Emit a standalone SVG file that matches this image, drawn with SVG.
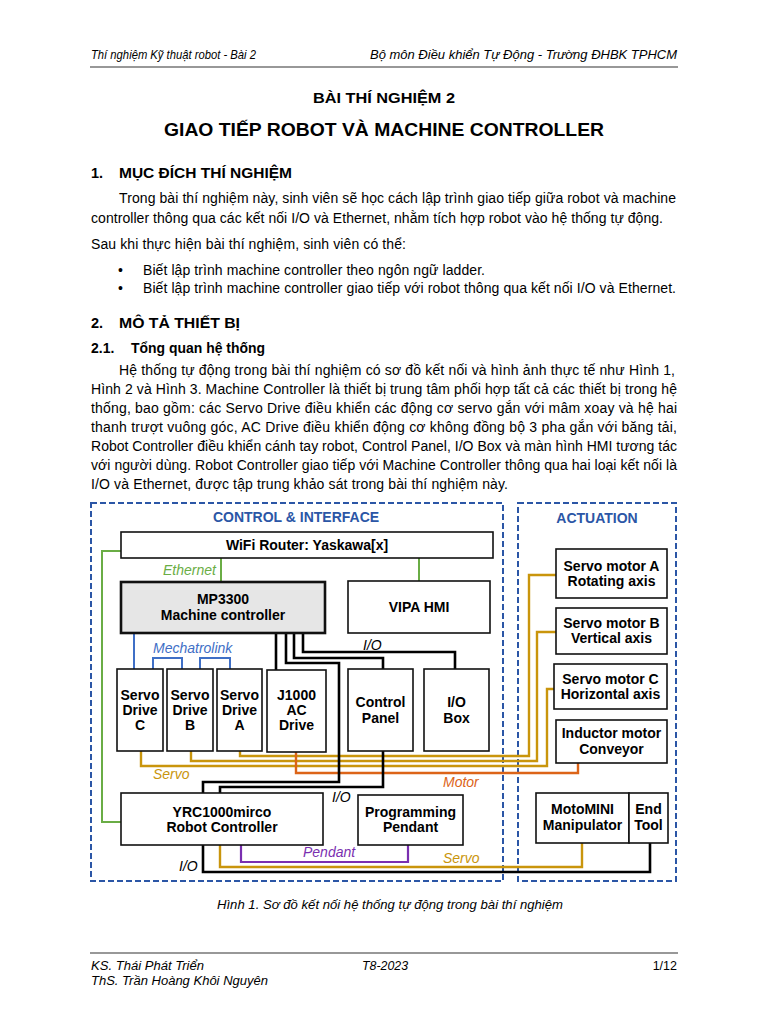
<svg xmlns="http://www.w3.org/2000/svg" width="768" height="1024" viewBox="0 0 768 1024">
<style>
.t{font-family:"Liberation Sans",Arial,sans-serif;fill:#000}
.it{font-style:italic}
.b{font-weight:bold}
.body{font-size:14px}
.nt{font-family:"Liberation Sans",Arial,sans-serif;font-weight:bold;font-size:14px;text-anchor:middle;fill:#000}
.box{fill:#fff;stroke:#111;stroke-width:1.6}
.dash{fill:none;stroke:#2b56a6;stroke-width:2;stroke-dasharray:6 3}
.lbl{font-family:"Liberation Sans",Arial,sans-serif;font-style:italic;font-size:14px}
.c{fill:none;stroke-linejoin:miter}
.gr{stroke:#6aad45;stroke-width:2}
.bl{stroke:#3f6fc6;stroke-width:2}
.bk{stroke:#000;stroke-width:2.6}
.gd{stroke:#c9950c;stroke-width:2.4}
.or{stroke:#dc6418;stroke-width:2.4}
.pu{stroke:#7a2fb0;stroke-width:2.2}
</style>
<rect width="768" height="1024" fill="#fff"/>
<!-- header -->
<text class="t it" x="91" y="59" font-size="13" textLength="165" lengthAdjust="spacingAndGlyphs">Thí nghiệm Kỹ thuật robot - Bài 2</text>
<text class="t it" x="677" y="59" font-size="13" text-anchor="end" textLength="307" lengthAdjust="spacingAndGlyphs">Bộ môn Điều khiển Tự Động - Trường ĐHBK TPHCM</text>
<line x1="90" y1="67" x2="678" y2="67" stroke="#333" stroke-width="1.2"/>
<text class="t b" x="384" y="103" font-size="15" text-anchor="middle" textLength="142" lengthAdjust="spacingAndGlyphs">BÀI THÍ NGHIỆM 2</text>
<text class="t b" x="384" y="136" font-size="18" text-anchor="middle" textLength="440" lengthAdjust="spacingAndGlyphs">GIAO TIẾP ROBOT VÀ MACHINE CONTROLLER</text>
<text class="t b" x="91" y="178" font-size="14.5">1.</text>
<text class="t b" x="119" y="178" font-size="14.5" textLength="173" lengthAdjust="spacingAndGlyphs">MỤC ĐÍCH THÍ NGHIỆM</text>
<text class="t body" x="119" y="203" textLength="557" lengthAdjust="spacing">Trong bài thí nghiệm này, sinh viên sẽ học cách lập trình giao tiếp giữa robot và machine</text>
<text class="t body" x="91" y="223" textLength="572" lengthAdjust="spacing">controller thông qua các kết nối I/O và Ethernet, nhằm tích hợp robot vào hệ thống tự động.</text>
<text class="t body" x="91" y="249" textLength="315" lengthAdjust="spacing">Sau khi thực hiện bài thí nghiệm, sinh viên có thể:</text>
<text class="t body" x="118" y="275">•</text>
<text class="t body" x="143" y="275" textLength="342" lengthAdjust="spacing">Biết lập trình machine controller theo ngôn ngữ ladder.</text>
<text class="t body" x="118" y="293">•</text>
<text class="t body" x="143" y="293" textLength="533" lengthAdjust="spacing">Biết lập trình machine controller giao tiếp với robot thông qua kết nối I/O và Ethernet.</text>
<text class="t b" x="91" y="328" font-size="14.5">2.</text>
<text class="t b" x="119" y="328" font-size="14.5" textLength="121" lengthAdjust="spacingAndGlyphs">MÔ TẢ THIẾT BỊ</text>
<text class="t b" x="91" y="353" font-size="14">2.1.</text>
<text class="t b" x="131" y="353" font-size="14" textLength="134" lengthAdjust="spacingAndGlyphs">Tổng quan hệ thống</text>
<text class="t body" x="119" y="375" textLength="556" lengthAdjust="spacing">Hệ thống tự động trong bài thí nghiệm có sơ đồ kết nối và hình ảnh thực tế như Hình 1,</text>
<text class="t body" x="91" y="394" textLength="586" lengthAdjust="spacing">Hình 2 và Hình 3. Machine Controller là thiết bị trung tâm phối hợp tất cả các thiết bị trong hệ</text>
<text class="t body" x="91" y="413" textLength="586" lengthAdjust="spacing">thống, bao gồm: các Servo Drive điều khiển các động cơ servo gắn với mâm xoay và hệ hai</text>
<text class="t body" x="91" y="432" textLength="586" lengthAdjust="spacing">thanh trượt vuông góc, AC Drive điều khiển động cơ không đồng bộ 3 pha gắn với băng tải,</text>
<text class="t body" x="91" y="451" textLength="586" lengthAdjust="spacing">Robot Controller điều khiển cánh tay robot, Control Panel, I/O Box và màn hình HMI tương tác</text>
<text class="t body" x="91" y="470" textLength="586" lengthAdjust="spacing">với người dùng. Robot Controller giao tiếp với Machine Controller thông qua hai loại kết nối là</text>
<text class="t body" x="91" y="489" textLength="417" lengthAdjust="spacing">I/O và Ethernet, được tập trung khảo sát trong bài thí nghiệm này.</text>

<!-- group frames -->
<g id="frames">
<rect class="dash" x="91" y="503" width="412" height="378"/>
<rect class="dash" x="518" y="503" width="158" height="378"/>
<text class="t b" x="296" y="522" font-size="14" text-anchor="middle" style="fill:#2b56a6">CONTROL &amp; INTERFACE</text>
<text class="t b" x="597" y="523" font-size="14" text-anchor="middle" style="fill:#2b56a6">ACTUATION</text>
</g>

<!-- connectors -->
<g id="connectors">
<path class="c gr" d="M121,551 H102 V822 H121"/>
<path class="c gr" d="M221,558 V582"/>
<path class="c gr" d="M419,558 V581"/>
<path class="c bl" d="M134,633 V669"/>
<path class="c bl" d="M153,669 V658 H182 V669"/>
<path class="c bl" d="M200,669 V658 H230 V669"/>
<path class="c gd" d="M141,751 V766 H547 V689 H554"/>
<path class="c gd" d="M191,751 V761 H537 V632 H556"/>
<path class="c gd" d="M240,751 V756 H529 V575 H556"/>
<path class="c or" d="M296,752 V773 H578 V763"/>
<path class="c bk" d="M276,633 V670"/>
<path class="c bk" d="M286,633 V663 H339 V782 H203 V793"/>
<path class="c bk" d="M294,633 V658 H383 V669"/>
<path class="c bk" d="M303,633 V652 H455 V669"/>
<path class="c bk" d="M383,751 V787 H220 V793"/>
<path class="c gd" d="M220,845 V867 H582 V843"/>
<path class="c pu" d="M241,845 V862 H408 V845"/>
<path class="c bk" d="M203,845 V872 H650 V843"/>
<text class="lbl" x="163" y="575" style="fill:#6aad45">Ethernet</text>
<text class="lbl" x="153" y="653" style="fill:#3f6fc6">Mechatrolink</text>
<text class="lbl" x="363" y="650" fill="#000">I/O</text>
<text class="lbl" x="153" y="779" style="fill:#c9950c">Servo</text>
<text class="lbl" x="443" y="787" style="fill:#dc6418">Motor</text>
<text class="lbl" x="332" y="802" fill="#000">I/O</text>
<text class="lbl" x="303" y="857" style="fill:#7a2fb0">Pendant</text>
<text class="lbl" x="443" y="863" style="fill:#c9950c">Servo</text>
<text class="lbl" x="179" y="871" fill="#000">I/O</text>
</g>

<!-- nodes -->
<g id="wifi"><rect class="box" x="121" y="532" width="372" height="26"/><text class="nt" x="307" y="550" font-size="13.5">WiFi Router: Yaskawa[x]</text></g>
<g id="mp3300"><rect x="121" y="582" width="204" height="51" fill="#e6e6e6" stroke="#111" stroke-width="2.6"/><text class="nt" x="223" y="604">MP3300</text><text class="nt" x="223" y="620">Machine controller</text></g>
<g id="vipa"><rect class="box" x="348" y="581" width="142" height="52"/><text class="nt" x="419" y="612">VIPA HMI</text></g>
<g id="sdc"><rect class="box" x="117" y="669" width="46" height="82"/><text class="nt" x="140" y="700">Servo</text><text class="nt" x="140" y="715">Drive</text><text class="nt" x="140" y="730">C</text></g>
<g id="sdb"><rect class="box" x="167" y="669" width="46" height="82"/><text class="nt" x="190" y="700">Servo</text><text class="nt" x="190" y="715">Drive</text><text class="nt" x="190" y="730">B</text></g>
<g id="sda"><rect class="box" x="217" y="669" width="45" height="82"/><text class="nt" x="239.5" y="700">Servo</text><text class="nt" x="239.5" y="715">Drive</text><text class="nt" x="239.5" y="730">A</text></g>
<g id="j1000"><rect class="box" x="267" y="670" width="59" height="82"/><text class="nt" x="296.5" y="700">J1000</text><text class="nt" x="296.5" y="715">AC</text><text class="nt" x="296.5" y="730">Drive</text></g>
<g id="cpanel"><rect class="box" x="348" y="669" width="65" height="82"/><text class="nt" x="380.5" y="707">Control</text><text class="nt" x="380.5" y="723">Panel</text></g>
<g id="iobox"><rect class="box" x="424" y="669" width="65" height="82"/><text class="nt" x="456.5" y="707">I/O</text><text class="nt" x="456.5" y="723">Box</text></g>
<g id="sma"><rect class="box" x="556" y="549" width="111" height="49"/><text class="nt" x="611.5" y="571">Servo motor A</text><text class="nt" x="611.5" y="586">Rotating axis</text></g>
<g id="smb"><rect class="box" x="556" y="608" width="111" height="46"/><text class="nt" x="611.5" y="628">Servo motor B</text><text class="nt" x="611.5" y="643">Vertical axis</text></g>
<g id="smc"><rect class="box" x="554" y="664" width="113" height="45"/><text class="nt" x="610.5" y="684">Servo motor C</text><text class="nt" x="610.5" y="699">Horizontal axis</text></g>
<g id="induct"><rect class="box" x="556" y="720" width="111" height="43"/><text class="nt" x="611.5" y="738">Inductor motor</text><text class="nt" x="611.5" y="754">Conveyor</text></g>
<g id="yrc"><rect class="box" x="121" y="793" width="202" height="52"/><text class="nt" x="222" y="817">YRC1000mirco</text><text class="nt" x="222" y="832">Robot Controller</text></g>
<g id="pendant"><rect class="box" x="358" y="795" width="105" height="50"/><text class="nt" x="410.5" y="817">Programming</text><text class="nt" x="410.5" y="832">Pendant</text></g>
<g id="motomini"><rect class="box" x="536" y="793" width="93" height="50"/><text class="nt" x="582.5" y="814">MotoMINI</text><text class="nt" x="582.5" y="830">Manipulator</text></g>
<g id="endtool"><rect class="box" x="629" y="793" width="39" height="50"/><text class="nt" x="648.5" y="814">End</text><text class="nt" x="648.5" y="830">Tool</text></g>

<!-- caption & footer -->
<text class="t it" x="390" y="909" font-size="13.5" text-anchor="middle" textLength="346" lengthAdjust="spacingAndGlyphs">Hình 1. Sơ đồ kết nối hệ thống tự động trong bài thí nghiệm</text>
<line x1="90" y1="953" x2="678" y2="953" stroke="#333" stroke-width="1.2"/>
<text class="t it" x="91" y="970" font-size="12.5" textLength="113" lengthAdjust="spacingAndGlyphs">KS. Thái Phát Triển</text>
<text class="t it" x="91" y="985" font-size="12.5" textLength="177" lengthAdjust="spacingAndGlyphs">ThS. Trần Hoàng Khôi Nguyên</text>
<text class="t it" x="362" y="970" font-size="12.5" textLength="46" lengthAdjust="spacingAndGlyphs">T8-2023</text>
<text class="t" x="677" y="970" font-size="12.5" text-anchor="end">1/12</text>
</svg>
